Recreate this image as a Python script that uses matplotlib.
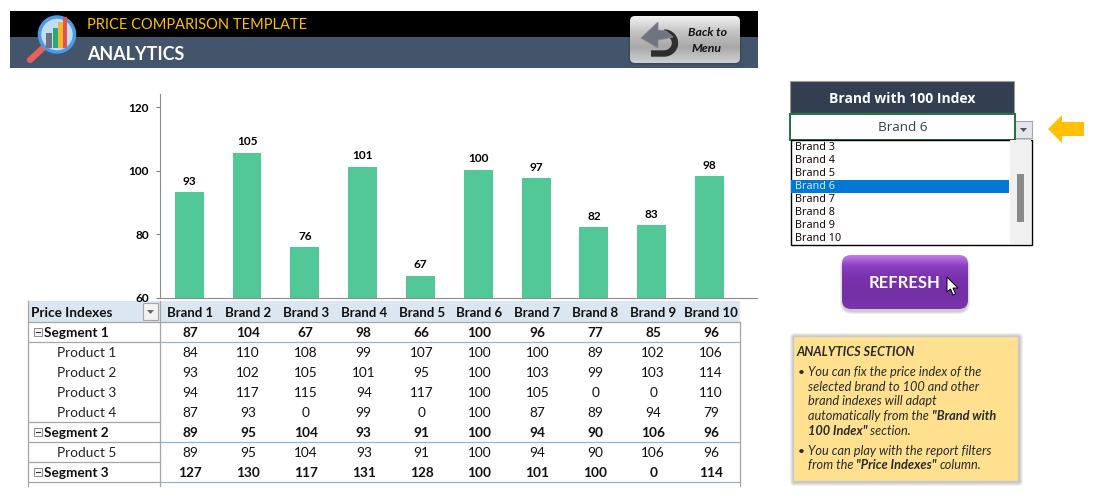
import numpy as np
import matplotlib
matplotlib.use('Agg')
import matplotlib.pyplot as plt
from matplotlib.patches import Rectangle, Polygon, FancyBboxPatch, Circle

brands = ['Brand 1', 'Brand 2', 'Brand 3', 'Brand 4', 'Brand 5',
          'Brand 6', 'Brand 7', 'Brand 8', 'Brand 9', 'Brand 10']
bar_values = [93, 105, 76, 101, 67, 100, 97, 82, 83, 98]
bar_heights = [93.2, 105.6, 76.0, 101.3, 67.0, 100.4, 97.7, 82.2, 82.9, 98.3]
y_ticks = [60, 80, 100, 120]

row_names = ['Segment 1', 'Product 1', 'Product 2', 'Product 3', 'Product 4',
             'Segment 2', 'Product 5', 'Segment 3']
segment_1 = [87, 104, 67, 98, 66, 100, 96, 77, 85, 96]
product_1 = [84, 110, 108, 99, 107, 100, 100, 89, 102, 106]
product_2 = [93, 102, 105, 101, 95, 100, 103, 99, 103, 114]
product_3 = [94, 117, 115, 94, 117, 100, 105, 0, 0, 110]
product_4 = [87, 93, 0, 99, 0, 100, 87, 89, 94, 79]
segment_2 = [89, 95, 104, 93, 91, 100, 94, 90, 106, 96]
product_5 = [89, 95, 104, 93, 91, 100, 94, 90, 106, 96]
segment_3 = [127, 130, 117, 131, 128, 100, 101, 100, 0, 114]
table_rows = [segment_1, product_1, product_2, product_3, product_4,
              segment_2, product_5, segment_3]

list_items = ['Brand 3', 'Brand 4', 'Brand 5', 'Brand 6',
              'Brand 7', 'Brand 8', 'Brand 9', 'Brand 10']

plt.rcParams['font.family'] = ['Lato', 'DejaVu Sans']

W, H = 1102, 498
fig = plt.figure(figsize=(W / 100, H / 100), dpi=100)

# background layer in pixel coordinates
bg = fig.add_axes([0, 0, 1, 1])
bg.set_xlim(0, W)
bg.set_ylim(H, 0)
bg.axis('off')


def rect(x0, y0, x1, y1, **kw):
    kw.setdefault('linewidth', 0)
    p = Rectangle((x0, y0), x1 - x0, y1 - y0, **kw)
    bg.add_patch(p)
    return p


def soft_shadow(x0, y0, x1, y1, radius, spread=4, alpha=0.07):
    # stacked translucent boxes, reads as a blurred shadow
    for k in range(spread, 0, -1):
        r = radius + k
        bg.add_patch(FancyBboxPatch((x0 + radius, y0 + radius), x1 - x0 - 2 * radius, y1 - y0 - 2 * radius,
                                    boxstyle=f'round,pad={r},rounding_size={r}',
                                    linewidth=0, facecolor='black', alpha=alpha, zorder=1))


def gradient_button(x0, y0, x1, y1, colors, radius):
    box = FancyBboxPatch((x0 + radius, y0 + radius), x1 - x0 - 2 * radius, y1 - y0 - 2 * radius,
                         boxstyle=f'round,pad={radius},rounding_size={radius}',
                         linewidth=0, facecolor='none')
    bg.add_patch(box)
    cmap = matplotlib.colors.LinearSegmentedColormap.from_list('btn', colors)
    grad = np.linspace(0, 1, 64).reshape(-1, 1)
    im = bg.imshow(grad, extent=(x0, x1, y1, y0), cmap=cmap, aspect='auto', zorder=2)
    im.set_clip_path(box)
    bg.set_xlim(0, W)
    bg.set_ylim(H, 0)


def text_runs(x, y, runs, **kw):
    # mixed regular and bold on one line, placed one after the other
    renderer = fig.canvas.get_renderer()
    for s, weight in runs:
        t = bg.text(x, y, s, fontweight=weight, **kw)
        x = bg.transData.inverted().transform(t.get_window_extent(renderer).p1)[0] + 3


# banner
rect(10, 11, 758, 37, facecolor='black')
rect(10, 37, 758, 68, facecolor='#44546A')
bg.text(87, 24.5, 'PRICE COMPARISON TEMPLATE', color='#FFC000', fontsize=10.5, va='center')
bg.text(87, 54, 'ANALYTICS', color='white', fontsize=12.9, fontweight='bold', va='center')

# magnifier icon
bg.plot([30, 44], [60, 47], color='#E8605A', lw=4.5, solid_capstyle='round', zorder=3)
bg.add_patch(Circle((57, 34.5), 17.5, facecolor='#BFDDF5', edgecolor='#4A9BE8', lw=2.5, zorder=3))
for bx0, bx1, by, colr in [(46, 52, 33, '#6B7280'), (52.5, 57.5, 28, '#2AA876'),
                           (57.5, 62.5, 22, '#F2B632'), (62.5, 67, 17, '#E8504A')]:
    rect(bx0, by, bx1, 48, facecolor=colr, zorder=4)

# back button
soft_shadow(630, 16, 740, 63, 5, spread=2)
gradient_button(630, 16, 740, 63, ['#F2F2F2', '#C4C4C4', '#A8A8A8', '#CFCFCF'], 5)
theta = np.linspace(-np.pi / 2, np.pi / 2, 30)
bg.plot(np.r_[664 + 11 * np.cos(theta), 651], np.r_[43 + 10.5 * np.sin(theta), 53.5],
        color='#2E2E2E', lw=4.6, solid_capstyle='butt', zorder=4)
bg.add_patch(Polygon([(641, 38), (658, 22), (658, 30), (666, 31), (673, 37), (664, 39), (658, 40), (658, 48)],
                     facecolor='#6E7480', edgecolor='#8A8A8A', lw=0.6, zorder=5))
bg.text(707, 32, 'Back to', color='#111111', fontsize=8.8, style='italic', fontweight='bold',
        ha='center', va='center', zorder=4)
bg.text(707, 48, 'Menu', color='#111111', fontsize=8.8, style='italic', fontweight='bold',
        ha='center', va='center', zorder=4)

# bar chart
ax = fig.add_axes([160 / W, 1 - 298 / H, (757 - 160) / W, (298 - 94.5) / H])
ax.patch.set_alpha(0)
x_pos = np.arange(len(brands))
ax.bar(x_pos, bar_heights, width=0.5, color='#52C798')
ax.set_xlim(-0.505, 9.82)
ax.set_ylim(60, 124)
ax.set_yticks(y_ticks)
ax.set_xticks([])
ax.tick_params(axis='y', labelsize=8.5, length=3, color='#808080', pad=5)
for lab in ax.get_yticklabels():
    lab.set_fontweight('bold')
for s in ['top', 'right']:
    ax.spines[s].set_visible(False)
for s in ['left', 'bottom']:
    ax.spines[s].set_color('#8C8C8C')
for xp, h, v in zip(x_pos, bar_heights, bar_values):
    ax.annotate(str(v), (xp, h), xytext=(0, 4), textcoords='offset points', ha='center',
                va='bottom', fontsize=8.5, fontweight='bold', color='black')

# pivot table
col_x = [190 + 57.9 * i for i in range(len(brands))]
rect(28, 301, 740, 322, facecolor='#DCE6F1')
bg.text(31, 313, 'Price Indexes', fontsize=9.8, fontweight='bold', va='center', color='#111111')
rect(143, 303, 158, 320, facecolor='#F2F2F2', edgecolor='#A6A6A6', linewidth=0.8)
bg.add_patch(Polygon([(147, 310), (154, 310), (150.5, 314)], facecolor='#666666', linewidth=0))
for cx, b in zip(col_x, brands):
    bg.text(cx, 313, b, fontsize=9.5, fontweight='bold', ha='center', va='center', color='#111111')

row_h = 20
row_top = 322
for i, (name, vals) in enumerate(zip(row_names, table_rows)):
    yc = row_top + row_h * i + 10.5
    is_seg = name.startswith('Segment')
    if is_seg:
        rect(34, yc - 5, 42, yc + 3, facecolor='#F5F5F5', edgecolor='#8C8C8C', linewidth=0.7)
        bg.plot([36, 40], [yc - 1, yc - 1], color='#333333', lw=0.8)
        bg.text(44, yc, name, fontsize=9.8, fontweight='bold', va='center', color='#111111')
    else:
        bg.text(57, yc, name, fontsize=9.8, va='center', color='#222222')
    for cx, v in zip(col_x, vals):
        bg.text(cx, yc, str(v), fontsize=9.8, ha='center', va='center', color='#111111',
                fontweight='bold' if is_seg else 'normal')

for yl in [322, 342, 421.5, 441.5, 461.5, 481.5]:
    bg.plot([28, 159.5], [yl, yl], color='#A6A6A6', lw=0.9)
for yl, colr in [(322, '#A6A6A6'), (342, '#95B3D7'), (441.5, '#95B3D7'), (481.5, '#95B3D7')]:
    bg.plot([159.5, 740], [yl, yl], color=colr, lw=0.9)
bg.plot([28, 28], [301, 486], color='#A6A6A6', lw=0.9)
bg.plot([159.5, 159.5], [301, 486], color='#A6A6A6', lw=0.9)
bg.plot([740, 740], [322, 486], color='#A6A6A6', lw=0.9)

# selector panel
rect(790, 81, 1014, 113, facecolor='#333F50', edgecolor='#999999', linewidth=0.8)
bg.text(902, 98.5, 'Brand with 100 Index', color='white', fontsize=10, fontweight='bold',
        ha='center', va='center', family=['Open Sans', 'DejaVu Sans'])
rect(790, 113.5, 1015, 140, facecolor='white', edgecolor='#217346', linewidth=1.4, zorder=3)
bg.text(902.5, 127.5, 'Brand 6', color='#333F50', fontsize=9.7, ha='center', va='center',
        family=['Open Sans', 'DejaVu Sans'], zorder=4)
rect(1015, 121, 1032, 138, facecolor='#E4E6EE', edgecolor='#A6A6A6', linewidth=0.8)
bg.add_patch(Polygon([(1020, 128), (1027, 128), (1023.5, 132)], facecolor='#555555', linewidth=0))
bg.add_patch(Polygon([(1048, 129), (1062, 115), (1062, 122), (1084, 122), (1084, 136),
                      (1062, 136), (1062, 143)], facecolor='#FFC000', linewidth=0))

# dropdown list
rect(790.5, 139.5, 1031.5, 244.5, facecolor='white', edgecolor='black', linewidth=1, zorder=4)
rect(1010, 140, 1031, 244, facecolor='#F0F0F0', zorder=5)
rect(1017, 174, 1024, 222, facecolor='#8A8A8A', zorder=6)
for i, item in enumerate(list_items):
    yc = 147.5 + 13 * i
    selected = item == 'Brand 6'
    if selected:
        rect(791, yc - 6.5, 1009, yc + 6.5, facecolor='#0078D7', zorder=5)
    bg.text(795, yc, item, fontsize=7.8, va='center', zorder=6, family=['Noto Sans', 'DejaVu Sans'],
            color='#CFE6FA' if selected else '#1A0A0A')

# refresh button
soft_shadow(843, 258, 967, 311, 9, spread=3)
gradient_button(842, 255, 968, 309, ['#C07BEA', '#8A3FC0', '#7A32AE', '#7530A8', '#7530A8', '#7A35AC'], 9)
bg.text(905, 283, 'REFRESH', color='white', fontsize=12, fontweight='bold',
        ha='center', va='center', zorder=4)
bg.add_patch(Polygon([(947, 277), (947, 292), (950.5, 289), (953, 295), (955.5, 294),
                      (953, 288), (958, 288)], facecolor='white', edgecolor='black', lw=0.7, zorder=5))

# note box
soft_shadow(794, 337, 1019, 482, 0.5, spread=4, alpha=0.06)
rect(793, 336, 1018, 481, facecolor='#FFE08F', edgecolor='#C9C9C9', linewidth=1, zorder=2)
note_kw = dict(fontsize=9.2, style='italic', color='#2B2B2B', va='center', zorder=3)
text_runs(797, 352, [('ANALYTICS SECTION', 'bold')], **note_kw)
bg.text(798, 372, '•', fontsize=8.8, color='#2B2B2B', va='center', zorder=3)
text_runs(808, 372, [('You can fix the price index of the', 'normal')], **note_kw)
text_runs(808, 387, [('selected brand to 100 and other', 'normal')], **note_kw)
text_runs(808, 401, [('brand indexes will adapt', 'normal')], **note_kw)
text_runs(808, 416, [('automatically from the', 'normal'), ('"Brand with', 'bold')], **note_kw)
text_runs(808, 431, [('100 Index"', 'bold'), ('section.', 'normal')], **note_kw)
bg.text(798, 451, '•', fontsize=8.8, color='#2B2B2B', va='center', zorder=3)
text_runs(808, 451, [('You can play with the report filters', 'normal')], **note_kw)
text_runs(808, 465, [('from the', 'normal'), ('"Price Indexes"', 'bold'), ('column.', 'normal')], **note_kw)

fig.savefig('out.png', dpi=100)
